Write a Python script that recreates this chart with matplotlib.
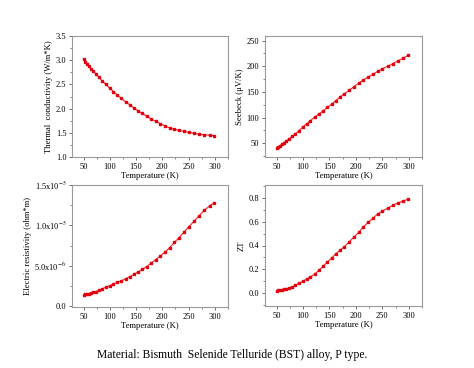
import matplotlib
matplotlib.use('Agg')
import matplotlib.pyplot as plt
from matplotlib.ticker import MultipleLocator, FixedLocator, FixedFormatter

plt.rcParams['font.family'] = ['Liberation Serif', 'DejaVu Serif']
plt.rcParams['mathtext.fontset'] = 'stix'

# 温度点 (K)
temperature = [50, 53, 56, 60, 64, 68, 73, 79, 85, 92, 100, 107, 114, 122, 130, 138, 146,
               154, 162, 170, 178, 187, 196, 205, 214, 223, 232, 241, 250, 260, 270, 280,
               290, 298]

thermal_k = [3.02, 2.96, 2.92, 2.87, 2.82, 2.78, 2.72, 2.65, 2.58, 2.50, 2.42, 2.35, 2.28,
             2.21, 2.14, 2.08, 2.01, 1.95, 1.90, 1.84, 1.79, 1.74, 1.69, 1.64, 1.60, 1.57,
             1.55, 1.53, 1.51, 1.49, 1.47, 1.46, 1.45, 1.44]

seebeck = [41, 43, 45, 48, 51, 54, 58, 63, 68, 74, 82, 88, 94, 101, 107, 113, 120, 126,
           133, 140, 146, 153, 160, 167, 173, 179, 184, 190, 195, 200, 205, 211, 216, 221]

resistivity_e5 = [0.14, 0.145, 0.15, 0.155, 0.16, 0.17, 0.18, 0.195, 0.215, 0.235, 0.255,
                  0.275, 0.295, 0.315, 0.34, 0.365, 0.395, 0.425, 0.455, 0.49, 0.53,
                  0.575, 0.62, 0.67, 0.725, 0.79, 0.85, 0.915, 0.98, 1.05, 1.12, 1.19,
                  1.24, 1.28]

zt = [0.02, 0.022, 0.025, 0.028, 0.032, 0.036, 0.042, 0.05, 0.065, 0.08, 0.10, 0.118,
      0.135, 0.16, 0.19, 0.225, 0.26, 0.295, 0.33, 0.36, 0.39, 0.43, 0.47, 0.51, 0.555,
      0.595, 0.63, 0.665, 0.69, 0.715, 0.74, 0.76, 0.775, 0.79]

rho_ticks = [0.0, 0.5e-5, 1.0e-5, 1.5e-5]
rho_labels = ['0.0', r'5.0x10$^{-6}$', r'1.0x10$^{-5}$', r'1.5x10$^{-5}$']

W, H = 474, 368
fig = plt.figure(figsize=(W / 100, H / 100), dpi=100)

# 各子图位置（像素 -> 比例）
boxes = {
    'tl': (72, 36, 228, 157),
    'tr': (265, 36, 422, 157),
    'bl': (72, 185, 228, 307),
    'br': (265, 185, 422, 306),
}


def make_ax(key):
    x0, y0, x1, y1 = boxes[key]
    ax = fig.add_axes([x0 / W, 1 - y1 / H, (x1 - x0) / W, (y1 - y0) / H])
    for s in ax.spines.values():
        s.set_color('#9a9a9a')
        s.set_linewidth(0.8)
    ax.tick_params(which='both', direction='out', labelsize=6, color='#555555',
                   top=False, right=False, pad=1.5)
    ax.tick_params(which='major', length=2.5, width=0.6)
    ax.tick_params(which='minor', length=1.5, width=0.5)
    ax.xaxis.set_major_locator(MultipleLocator(50))
    ax.xaxis.set_minor_locator(MultipleLocator(25))
    ax.set_xlim(28, 325)
    ax.set_xlabel('Temperature (K)', fontsize=6.2, labelpad=1)
    return ax


def draw(ax, y):
    ax.plot(temperature, y, color='#ff2020', lw=0.8, marker='s', ms=1.8,
            mfc='#e00010', mec='#e00010')


ax = make_ax('tl')
draw(ax, thermal_k)
ax.set_ylim(1.0, 3.5)
ax.yaxis.set_major_locator(MultipleLocator(0.5))
ax.yaxis.set_minor_locator(MultipleLocator(0.25))
ax.set_ylabel('Thermal  conductivity (W/m*K)', fontsize=6.2, labelpad=2)

ax = make_ax('tr')
draw(ax, seebeck)
ax.set_ylim(23, 259)
ax.yaxis.set_major_locator(MultipleLocator(50))
ax.yaxis.set_minor_locator(MultipleLocator(25))
ax.set_ylabel('Seebeck (μV/K)', fontsize=6.2, labelpad=2)

ax = make_ax('bl')
draw(ax, [v * 1e-5 for v in resistivity_e5])
ax.set_ylim(-0.01e-5, 1.5e-5)
ax.yaxis.set_major_locator(FixedLocator(rho_ticks))
ax.yaxis.set_major_formatter(FixedFormatter(rho_labels))
ax.yaxis.set_minor_locator(MultipleLocator(0.25e-5))
ax.set_ylabel('Electric resistivity (ohm*m)', fontsize=6.2, labelpad=2)

ax = make_ax('br')
draw(ax, zt)
ax.set_ylim(-0.11, 0.91)
ax.yaxis.set_major_locator(MultipleLocator(0.2))
ax.yaxis.set_minor_locator(MultipleLocator(0.1))
ax.set_ylabel('ZT', fontsize=6.2, labelpad=2)

fig.text(0.49, 0.035, 'Material: Bismuth  Selenide Telluride (BST) alloy, P type.',
         ha='center', va='center', fontsize=8.4)

fig.savefig('out.png', dpi=100)
